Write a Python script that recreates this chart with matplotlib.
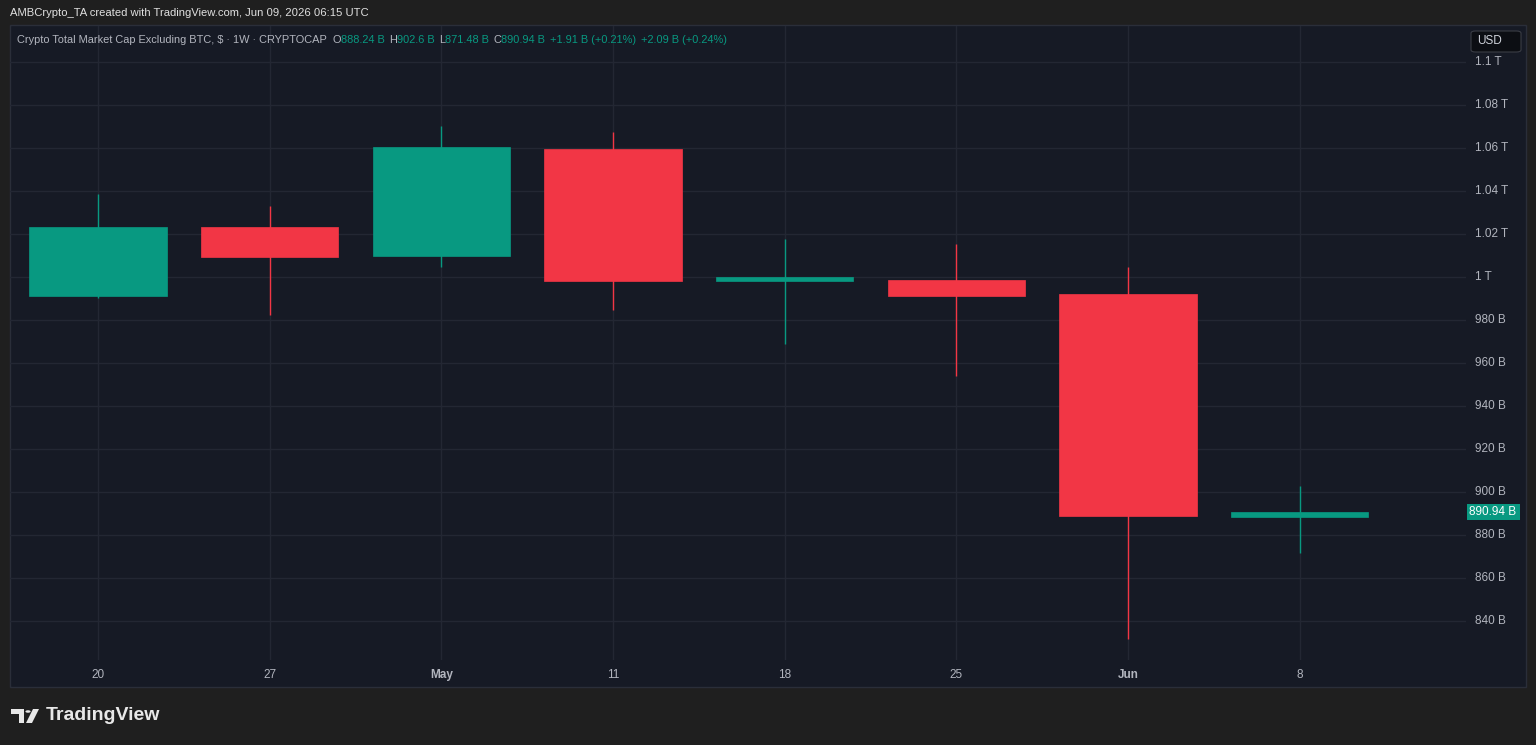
import matplotlib.pyplot as plt
from matplotlib.patches import Rectangle, FancyBboxPatch, Polygon, Circle

# weekly candles, values in billions USD
week_labels = ['20', '27', 'May', '11', '18', '25', 'Jun', '8']
opens = [991.2, 1023.1, 1009.9, 1059.5, 998.1, 998.6, 992.0, 888.24]
highs = [1038.6, 1033.0, 1070.2, 1067.4, 1017.7, 1015.3, 1004.8, 902.6]
lows = [990.3, 982.3, 1004.8, 984.7, 968.7, 953.9, 831.5, 871.48]
closes = [1023.1, 1009.1, 1060.3, 998.1, 1000.0, 991.3, 889.03, 890.94]
price_ticks = [840, 860, 880, 900, 920, 940, 960, 980, 1000, 1020, 1040, 1060, 1080, 1100]
price_tick_labels = ['840 B', '860 B', '880 B', '900 B', '920 B', '940 B', '960 B', '980 B',
                     '1 T', '1.02 T', '1.04 T', '1.06 T', '1.08 T', '1.1 T']

BG = '#1f1f1f'
PANEL = '#161a25'
GRID = '#232733'
GREEN = '#089981'
RED = '#f23645'
TXT = '#b2b5be'
FONT = ['Liberation Sans', 'DejaVu Sans']

W, H = 1536, 745
fig = plt.figure(figsize=(W / 100, H / 100), dpi=100, facecolor=BG)

def fx(px):
    return px / W

def fy(py):
    return 1 - py / H

# main dark panel
fig.patches.append(Rectangle((fx(10), fy(687)), fx(1516), (687 - 25) / H,
                             transform=fig.transFigure, facecolor=PANEL,
                             edgecolor='#2a2e39', lw=1, zorder=0))

ax = fig.add_axes([fx(10), fy(660), fx(1456), (660 - 26) / H])
ax.set_zorder(2)
ax.set_facecolor('none')
for s in ax.spines.values():
    s.set_visible(False)

x = list(range(len(week_labels)))
bw = 0.8
for i in x:
    o, h, l, c = opens[i], highs[i], lows[i], closes[i]
    col = GREEN if c >= o else RED
    ax.vlines(i, l, h, color=col, lw=1, zorder=2)
    bottom = min(o, c)
    height = max(abs(c - o), 0.4)
    ax.add_patch(Rectangle((i - bw / 2, bottom), bw, height, facecolor=col,
                           edgecolor=col, lw=0.5, zorder=3))

ax.set_xlim(-0.513, 7.97)
ax.set_ylim(821.9, 1116.7)
ax.set_xticks(x)
ax.set_yticks(price_ticks)
ax.grid(True, color=GRID, lw=1)
ax.set_axisbelow(True)
ax.tick_params(left=False, bottom=False, labelleft=False, labelbottom=False)

# time axis labels
for i, lab in enumerate(week_labels):
    xp = ax.transData.transform((i, 0))[0]
    fig.text(xp / W, fy(675), lab, color=TXT, fontsize=8.5, ha='center', va='center',
             family=FONT, fontweight='bold' if lab in ('May', 'Jun') else 'normal')

# price axis labels
for v, lab in zip(price_ticks, price_tick_labels):
    yp = ax.transData.transform((0, v))[1]
    fig.text(fx(1475), yp / H, lab, color=TXT, fontsize=8.5, ha='left', va='center', family=FONT)

# last price tag
yp = ax.transData.transform((0, closes[-1]))[1]
fig.patches.append(Rectangle((fx(1467), yp / H - 8 / H), fx(53), 16 / H,
                             transform=fig.transFigure, facecolor=GREEN, edgecolor='none', zorder=5))
fig.text(fx(1493), yp / H, '890.94 B', color='white', fontsize=8.5, ha='center', va='center',
         family=FONT, zorder=6)

# USD box
fig.patches.append(FancyBboxPatch((fx(1471), fy(52)), fx(50), 21 / H,
                                  boxstyle='round,pad=0,rounding_size=0.003',
                                  transform=fig.transFigure, facecolor='#0c0e13',
                                  edgecolor='#3a3d45', lw=0.8, zorder=5))
fig.text(fx(1489), fy(41), 'USD', color='#d1d4dc', fontsize=8.5, ha='center', va='center',
         family=FONT, zorder=6)

# header
fig.text(fx(10), fy(13), 'AMBCrypto_TA created with TradingView.com, Jun 09, 2026 06:15 UTC',
         color='#e0e0e0', fontsize=8.1, ha='left', va='center', family=FONT)

# (text, colour, gap in px after it)
parts = [('Crypto Total Market Cap Excluding BTC, $ · 1W · CRYPTOCAP', TXT, 6),
         ('O', TXT, 0), ('888.24 B', GREEN, 4), ('H', TXT, 0), ('902.6 B', GREEN, 4),
         ('L', TXT, 0), ('871.48 B', GREEN, 4), ('C', TXT, 0), ('890.94 B', GREEN, 5),
         ('+1.91 B (+0.21%)', GREEN, 5), ('+2.09 B (+0.24%)', GREEN, 0)]
head = [fig.text(fx(17), fy(40), t, color=c, fontsize=7.9, ha='left', va='center',
                 family=FONT, zorder=6) for t, c, g in parts]
fig.canvas.draw()
r = fig.canvas.get_renderer()
xcur = 17
for t, (s, c, g) in zip(head, parts):
    t.set_x(fx(xcur))
    xcur += t.get_window_extent(r).width + g

# TradingView logo
lc = '#e8e8e8'
fig.patches.append(Polygon([(fx(11), fy(709)), (fx(24), fy(709)), (fx(24), fy(723)),
                            (fx(19), fy(723)), (fx(19), fy(714)), (fx(11), fy(714))],
                           closed=True, transform=fig.transFigure, facecolor=lc, edgecolor='none'))
fig.patches.append(Circle((fx(28), fy(711.5)), 2.6 / W, transform=fig.transFigure,
                          facecolor=lc, edgecolor='none'))
fig.patches.append(Polygon([(fx(33), fy(709)), (fx(39), fy(709)), (fx(32), fy(723)), (fx(26), fy(723))],
                           closed=True, transform=fig.transFigure, facecolor=lc, edgecolor='none'))
fig.text(fx(46), fy(716), 'TradingView', color=lc, fontsize=14, fontweight='bold',
         ha='left', va='center', family=FONT)

fig.savefig('out.png', dpi=100, facecolor=BG)
